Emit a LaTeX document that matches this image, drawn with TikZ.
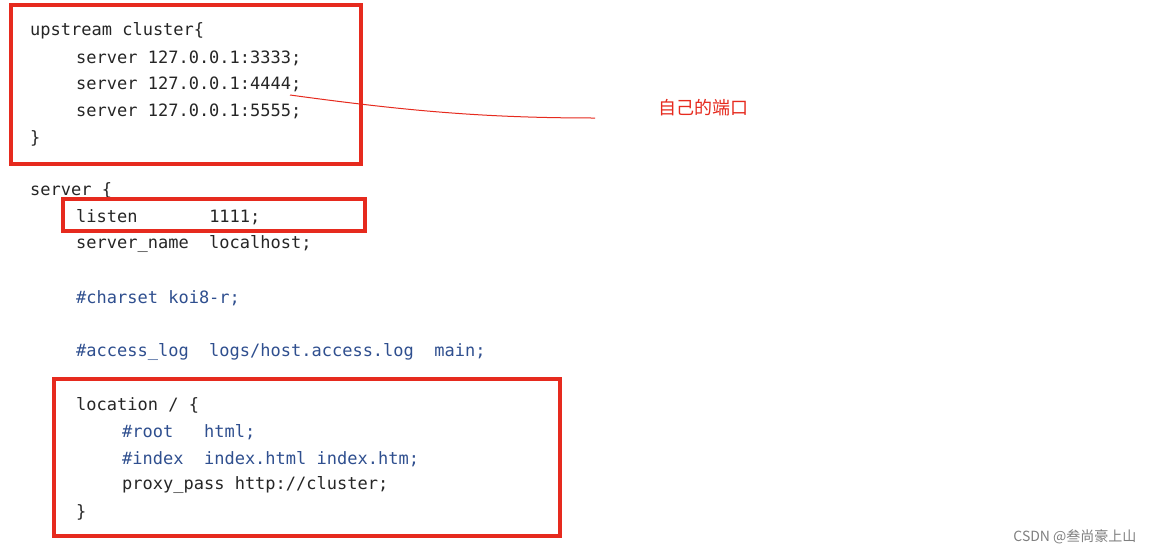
\documentclass[tikz,border=0pt]{standalone}
\usepackage{fontspec}
\setmonofont{DejaVu Sans Mono}
\newfontfamily\cjk{Noto Sans CJK SC}
\definecolor{rb}{HTML}{E62A1E}
\definecolor{cblue}{HTML}{2F4F8F}
\begin{document}
\begin{tikzpicture}[x=1pt,y=-1pt,
 code/.style={anchor=west,inner sep=0pt,font=\ttfamily\fontsize{17}{19}\selectfont,text=black!85},
 box/.style={draw=rb,line width=3.6pt},
 cb/.style={text=cblue}]
\useasboundingbox[fill=white] (0,0) rectangle (1151,555);
\node[code] (l1) at (30,31) {upstream cluster\{};
\node[code] (l2) at (76,58) {server 127.0.0.1:3333;};
\node[code] (l3) at (76,84) {server 127.0.0.1:4444;};
\node[code] (l4) at (76,111) {server 127.0.0.1:5555;};
\node[code] (l5) at (30,138) {\}};
\node[code] (l6) at (30,190) {server \{};
\node[code] (l7) at (76,217) {listen~~~~~~~1111;};
\node[code] (l8) at (76,244) {server\_name~~localhost;};
\node[code,cb] (l9) at (76,298) {\#charset koi8-r;};
\node[code,cb] (l10) at (76,352) {\#access\_log~~logs/host.access.log~~main;};
\node[code] (l11) at (76,405) {location / \{};
\node[code,cb] (l12) at (122,432) {\#root~~~html;};
\node[code,cb] (l13) at (122,459) {\#index~~index.html index.htm;};
\node[code] (l14) at (122,485) {proxy\_pass http://cluster;};
\node[code] (l15) at (76,512) {\}};
\draw[box] (11,5) rectangle (361,164);
\draw[box] (63,199) rectangle (365,231);
\draw[box] (54,379) rectangle (560,536);
\coordinate (c1) at (290,95);
\coordinate (c2) at (595,118);
\draw[rb,line width=1pt] (c1) .. controls (400,110) and (480,118) .. (c2);
\node[text=rb,font=\cjk\fontsize{18}{20}\selectfont] (lab) at (703,108) {自己的端口};
\node[text=gray,font=\cjk\fontsize{14}{16}\selectfont,anchor=east] (wm) at (1140,537) {CSDN @叁尚豪上山};
\end{tikzpicture}
\end{document}
